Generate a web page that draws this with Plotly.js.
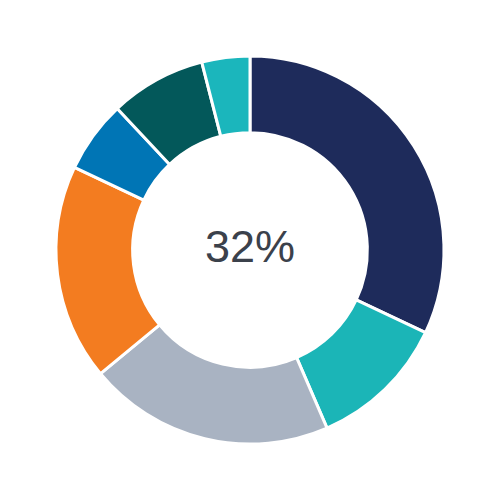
<!DOCTYPE html>
<html>
<head>
<meta charset="utf-8">
<script src="https://cdn.plot.ly/plotly-3.0.1.min.js"></script>
<style>
  html, body { margin: 0; padding: 0; background: #fff; }
  #chart { width: 500px; height: 500px; }
</style>
</head>
<body>
<div id="chart"></div>
<script>
// slice shares, clockwise from 12 o'clock
var labels = ['A', 'B', 'C', 'D', 'E', 'F', 'G'];
var values = [32, 11.5, 20.5, 18, 6, 8, 4];
var colors = ['#1e2b5b', '#1bb5b7', '#a9b3c2', '#f37c20', '#0075b5', '#03585a', '#1bb6bc'];
var centerText = '32%';

var trace = {
  type: 'pie',
  labels: labels,
  values: values,
  hole: 0.605,
  sort: false,
  direction: 'clockwise',
  rotation: 0,
  textinfo: 'none',
  hoverinfo: 'none',
  marker: { colors: colors, line: { color: '#ffffff', width: 3 } }
};

var layout = {
  width: 500,
  height: 500,
  margin: { l: 56, r: 56, t: 56, b: 56 },
  showlegend: false,
  paper_bgcolor: '#ffffff',
  annotations: [{
    text: centerText,
    x: 0.5, y: 0.5, xref: 'paper', yref: 'paper',
    yshift: 4,
    showarrow: false,
    font: { family: 'Liberation Sans, Arial, sans-serif', size: 45, color: '#3b414b' }
  }]
};

Plotly.newPlot('chart', [trace], layout, { displayModeBar: false, staticPlot: true });
</script>
</body>
</html>
